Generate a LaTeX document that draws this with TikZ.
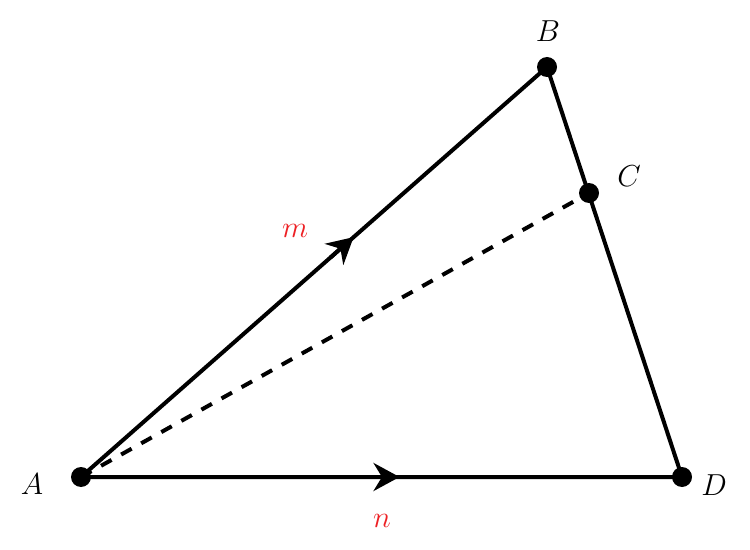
\documentclass[tikz,border=0pt]{standalone}
\usetikzlibrary{arrows.meta}
\definecolor{lblred}{RGB}{237,32,36}
\begin{document}
\begin{tikzpicture}[x=0.02cm,y=-0.02cm,
  pt/.style={circle,fill=black,inner sep=0pt,minimum size=0.4cm},
  lbl/.style={inner sep=0pt,font=\fontsize{17}{20}\selectfont},
  side/.style={line width=0.08cm},
  dashside/.style={line width=0.08cm,dash pattern=on 0.24cm off 0.22cm},
  tip/.style={-{Stealth[length=0.52cm,width=0.56cm]}}]
\useasboundingbox (0,0) rectangle (750,550);
\node[pt] (A) at (81,477) {};
\node[pt] (B) at (547,67) {};
\node[pt] (C) at (589,193) {};
\node[pt] (D) at (682,477) {};
\node[lbl] (lA) at (32,484) {$A$};
\node[lbl] (lB) at (548,31) {$B$};
\node[lbl] (lC) at (629,176) {$C$};
\node[lbl] (lD) at (714,485) {$D$};
\node[lbl,text=lblred] (lm) at (295,231) {$m$};
\node[lbl,text=lblred] (ln) at (382,521) {$n$};
\draw[side] (A.center) -- (B.center) -- (D.center) -- (A.center);
\draw[dashside] (A.center) -- (C);
\path (A.center) -- (B.center) coordinate[pos=0.535] (m1) coordinate[pos=0.585] (m2);
\path (A.center) -- (D.center) coordinate[pos=0.485] (n1) coordinate[pos=0.53] (n2);
\draw[side,tip] (m1) -- (m2);
\draw[side,tip] (n1) -- (n2);
\end{tikzpicture}
\end{document}
